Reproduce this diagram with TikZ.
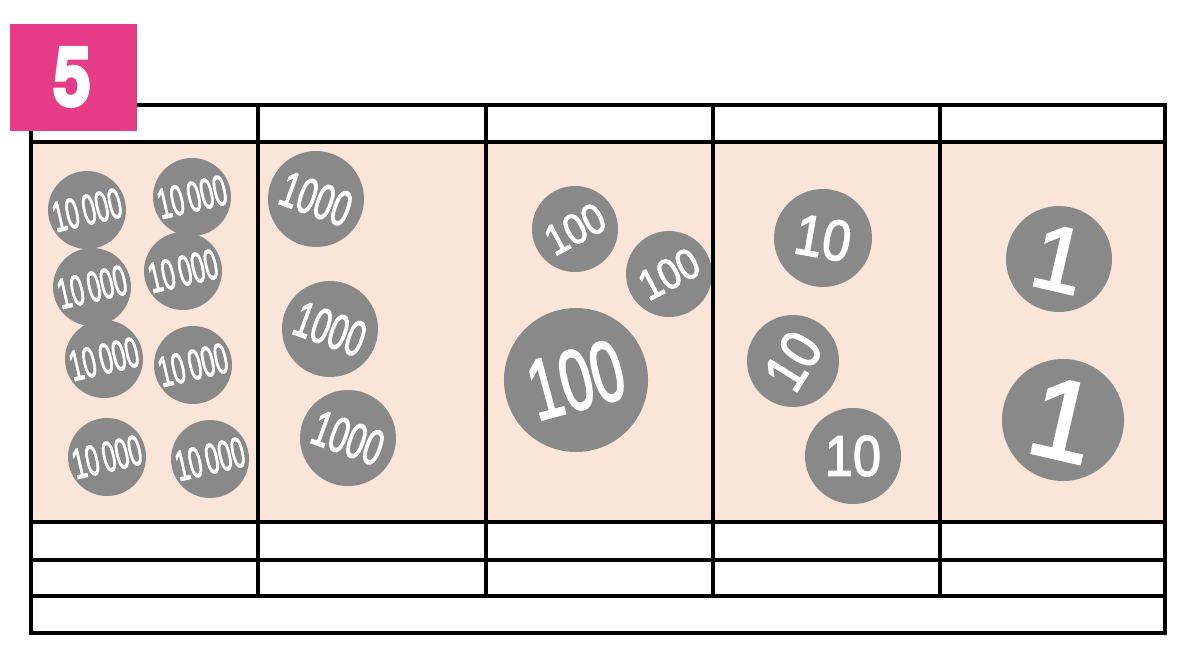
\documentclass[tikz,border=0pt]{standalone}
\usepackage{fontspec}
\usepackage{graphicx}
\newfontfamily\coinfont[FakeBold=2.5]{Liberation Sans}
\newfontfamily\badgefont[FakeBold=4]{TeX Gyre Heros}
\definecolor{cellpink}{HTML}{FBE4D8}
\definecolor{coingray}{HTML}{898989}
\definecolor{badgepink}{HTML}{E63B87}
\tikzset{
  coin/.style={circle, fill=coingray, inner sep=0pt, text=white, font=\coinfont},
  gridline/.style={line width=2.3pt, black},
  badge/.style={fill=badgepink, inner sep=0pt, text=white}
}
\newcommand\mycoin[8]{\node[coin, minimum size=#4pt, rotate=#5] (#1) at (#2,#3) {\resizebox{#6}{#7}{#8}};}
\begin{document}
\begin{tikzpicture}[x=0.5pt,y=-0.5pt]
\useasboundingbox (0,0) rectangle (1193,659);
% pink band
\fill[cellpink] (31,142) rectangle (1165,522);
% column 1: 10 000
\foreach \n/\x/\y in {a1/87/210, a2/192/197, a3/92/287, a4/183/271, a5/104/359, a6/193/365, a7/107/457, a8/210/459}
  {\mycoin{\n}{\x}{\y}{39}{13}{35pt}{15pt}{10\,000}}
% column 2: 1000
\foreach \n/\x/\y in {b1/316/199, b2/330/329, b3/348/438}
  {\mycoin{\n}{\x}{\y}{48}{-20}{36pt}{17.5pt}{1000}}
% column 3: 100
\mycoin{c1}{575}{229}{43}{28}{31pt}{15pt}{100}
\mycoin{c2}{669}{274}{43}{28}{31pt}{15pt}{100}
\mycoin{c3}{576}{380}{72}{15}{48pt}{30pt}{100}
% column 4: 10
\mycoin{d1}{823}{238}{49}{-10}{28pt}{20pt}{10}
\mycoin{d2}{793}{361}{46}{58}{28pt}{20pt}{10}
\mycoin{d3}{853}{456}{48}{0}{28pt}{20pt}{10}
% column 5: 1
\mycoin{e1}{1059}{259}{53}{-13}{!}{31.5pt}{1}
\mycoin{e2}{1063}{420}{61}{-13}{!}{39pt}{1}
% grid
\draw[gridline] (31,105) rectangle (1165,633);
\foreach \y in {142,522,560,596} \draw[gridline] (31,\y) -- (1165,\y);
\foreach \x in {258,486,713,940} \draw[gridline] (\x,105) -- (\x,596);
% badge
\node[badge, minimum width=63.5pt, minimum height=53.5pt] (badge) at (73.5,77.5) {};
\node[text=white, inner sep=0pt] (badgenum) at (72,77) {\resizebox{19pt}{29pt}{\badgefont\bfseries 5}};
\end{tikzpicture}
\end{document}
